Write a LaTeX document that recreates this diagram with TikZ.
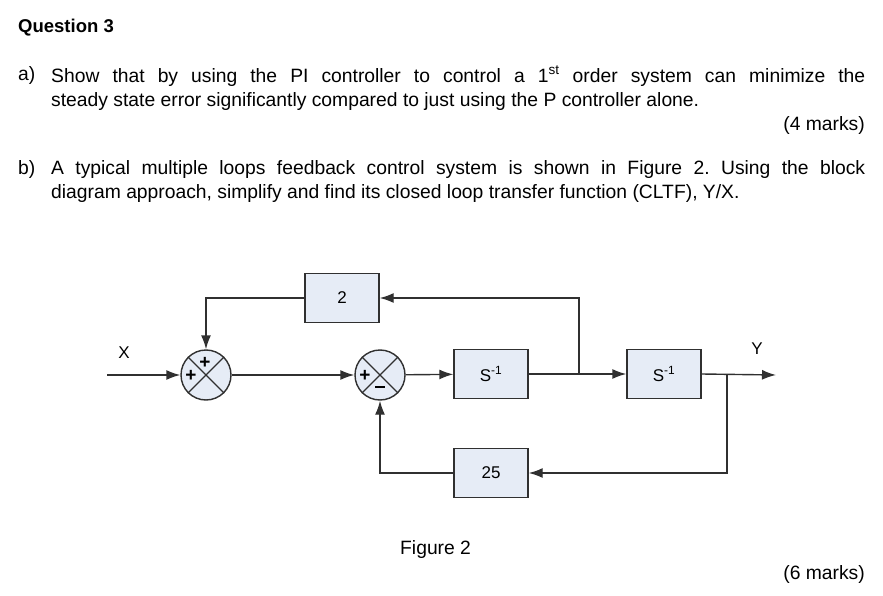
\documentclass[tikz,border=0pt]{standalone}
\usepackage{fontspec}
\setmainfont{Liberation Sans}
\usetikzlibrary{positioning, calc, arrows.meta}
\tikzset{>={Latex[length=14pt,width=10pt]}}
\definecolor{boxfill}{HTML}{E6ECF6}
\definecolor{inkgray}{HTML}{303030}
\tikzset{
  block/.style={draw=inkgray,fill=boxfill,line width=1.4pt,minimum width=74pt,minimum height=49pt,inner sep=0,font=\fontsize{17}{20}\selectfont},
  sum/.style={draw=inkgray,fill=boxfill,circle,line width=1.4pt,minimum size=50pt,inner sep=0},
  wire/.style={line width=1.4pt,draw=inkgray},
  para/.style={anchor=north west,inner sep=0,font=\fontsize{19.3}{24.5}\selectfont,text=black},
  sgn/.style={font=\fontsize{19}{19}\selectfont\bfseries,inner sep=0}
}
\begin{document}
\frenchspacing
\begin{tikzpicture}[x=1pt,y=-1pt]
\useasboundingbox (0,0) rectangle (883,596);

% text
\node[para,font=\fontsize{18.5}{24}\selectfont\bfseries] (q) at (18,19) {Question 3};
\node[para] (la) at (18,66) {a)};
\node[para] (ta) at (51,66) {\parbox[t]{814pt}{Show that by using the PI controller to control a 1\textsuperscript{st} order system can minimize the\linebreak steady state error significantly compared to just using the P controller alone.}};
\node[para,anchor=north east] (ma) at (865,116) {(4 marks)};
\node[para] (lb) at (18,160) {b)};
\node[para] (tb) at (51,160) {\parbox[t]{814pt}{A typical multiple loops feedback control system is shown in Figure 2. Using the block\linebreak diagram approach, simplify and find its closed loop transfer function (CLTF), Y/X.}};
\node[para] (fig) at (400,540) {Figure 2};
\node[para,anchor=north east] (mb) at (865,565) {(6 marks)};

% blocks
\node[sum] (s1) at (206,375) {};
\node[sum] (s2) at (380,375) {};
\node[block] (g1) at (491,374) {S\textsuperscript{-1}};
\node[block] (g2) at (664,374) {S\textsuperscript{-1}};
\node[block] (k2) at (342,298) {2};
\node[block] (k25) at (491,473) {25};
\foreach\s in {s1,s2}
  \draw[wire] (\s.north west) -- (\s.south east) (\s.north east) -- (\s.south west);
\node[sgn] at ($(s1)+(-15,1)$) {+};
\node[sgn] at ($(s1)+(-1,-12)$) {+};
\node[sgn] at ($(s2)+(-15,1)$) {+};
\node[sgn] at ($(s2)+(0,12)$) {\rule{10pt}{1.4pt}};
\node[font=\fontsize{17}{17}\selectfont] (xl) at (124,353) {X};
\node[font=\fontsize{17}{17}\selectfont] (yl) at (757,349) {Y};

% connections
\coordinate (xin) at (107,375);
\coordinate (yout) at (776,375);
\coordinate (b1) at (579,374);
\coordinate (b2) at (727,375);
\draw[wire,->] (xin) -- (s1);
\draw[wire,->] (s1) -- (s2);
\draw[wire,->] (s2) -- (g1);
\draw[wire,->] (g1) -- (g2);
\draw[wire,->] (g2.east) -- (yout);
\draw[wire,->] (b1) |- (k2);
\draw[wire,->] (k2) -| (s1);
\draw[wire,->] (b2) |- (k25);
\draw[wire,->] (k25) -| (s2);
\end{tikzpicture}
\end{document}
